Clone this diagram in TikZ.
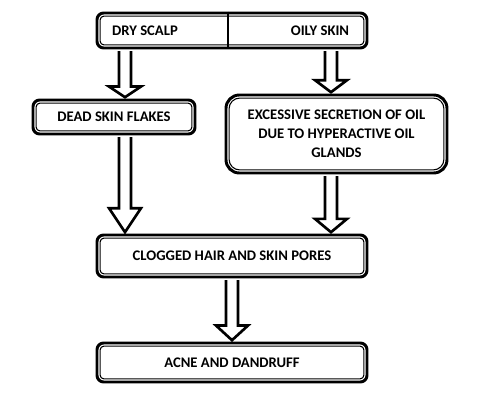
\documentclass[tikz,border=0pt]{standalone}
\usepackage{fontspec}
\setmainfont{Carlito}
\usetikzlibrary{calc}
\tikzstyle{OuterBox}=[rectangle, draw=black, line width=2.2pt, fill=white, rounded corners=5pt, font=\bfseries\fontsize{11}{14.25}\selectfont, align=center, inner sep=0pt]
\tikzstyle{InnerLine}=[draw=black, line width=0.8pt]
\tikzstyle{Label}=[font=\bfseries\fontsize{11}{14.25}\selectfont, inner sep=0pt]
\tikzstyle{Divider}=[draw=black, line width=2.2pt]
\tikzset{BlockArrow/.style={draw=black, line width=2pt, fill=white, line join=miter,
  to path={let \p1=(\tikztostart), \p2=(\tikztotarget) in
    (\x1-4.5pt,\y1-1.2pt) -- (\x1-4.5pt,\y2+#1) -- (\x1-12pt,\y2+#1) -- (\x2,\y2+1pt)
    -- (\x1+12pt,\y2+#1) -- (\x1+4.5pt,\y2+#1) -- (\x1+4.5pt,\y1-1.2pt)}}}

\begin{document}
\begin{tikzpicture}[x=0.75pt, y=-0.75pt]
\useasboundingbox (0,0) rectangle (486,415);

% boxes
\node[OuterBox, minimum width=202.5pt, minimum height=26.25pt](top) at (232,30.5) {};
\node[Label](dry) at (145,30.5) {DRY SCALP};
\node[Label](oily) at (320,30.5) {OILY SKIN};
\coordinate (split) at (228,30.5);
\node[OuterBox, minimum width=121.5pt, minimum height=25.5pt](flakes) at (114,117) {DEAD SKIN FLAKES};
\node[OuterBox, rounded corners=10pt, minimum width=165.75pt, minimum height=58.5pt](oil) at (336.5,134) {EXCESSIVE SECRETION OF OIL\\DUE TO HYPERACTIVE OIL\\GLANDS};
\node[OuterBox, minimum width=202.5pt, minimum height=31.5pt](pores) at (232,256) {CLOGGED HAIR AND SKIN PORES};
\node[OuterBox, minimum width=202.5pt, minimum height=29.25pt](acne) at (232,362.5) {ACNE AND DANDRUFF};

% inner frames
\foreach \n/\r in {top/3pt, flakes/3pt, oil/8pt, pores/3pt, acne/3pt}
  \draw[InnerLine, rounded corners=\r] ([shift={(3.4pt,3.4pt)}]\n.south west) rectangle ([shift={(-3.4pt,-3.4pt)}]\n.north east);
\draw[Divider] (split |- top.north) -- (split |- top.south);

% arrows
\coordinate (colL) at (125,0);
\coordinate (colR) at (331,0);
\coordinate (colM) at (232,0);
\draw[BlockArrow=9pt] (colL |- top.south) to (colL |- flakes.north);
\draw[BlockArrow=10pt] (colR |- top.south) to (colR |- oil.north);
\draw[BlockArrow=19pt] (colL |- flakes.south) to (colL |- pores.north);
\draw[BlockArrow=11pt] (colR |- oil.south) to (colR |- pores.north);
\draw[BlockArrow=12pt] (colM |- pores.south) to (colM |- acne.north);
\end{tikzpicture}
\end{document}
